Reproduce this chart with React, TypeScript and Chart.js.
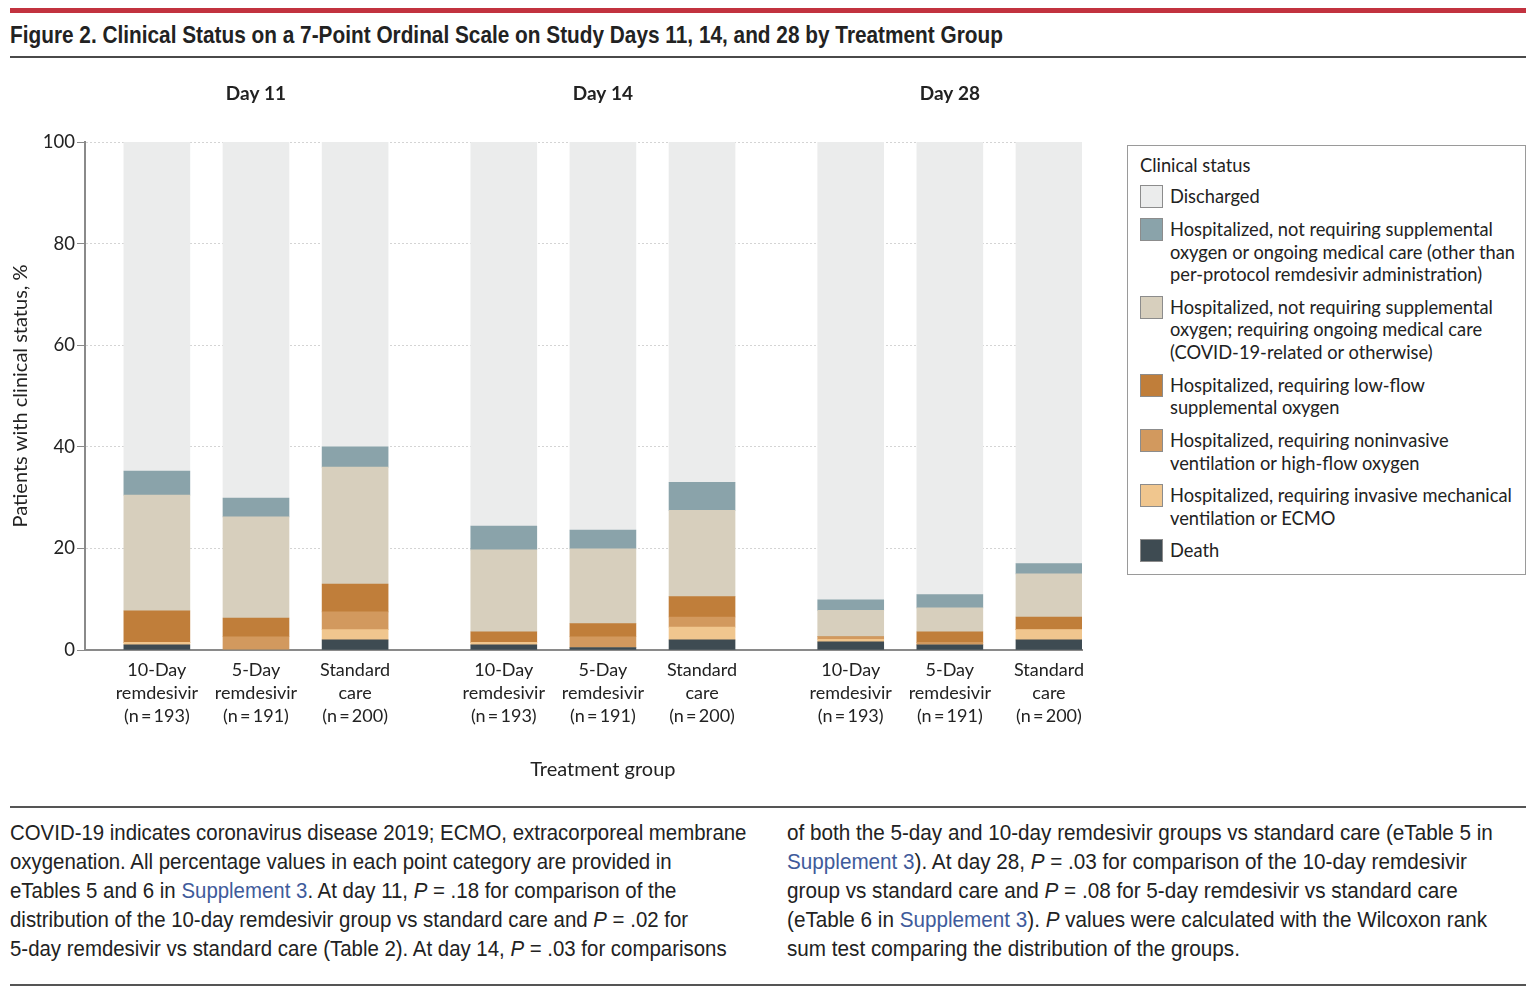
import React, { useEffect, useRef } from "react";
import { Chart, registerables } from "chart.js";

Chart.register(...registerables);

// Study days shown as groups, and the treatment arms inside each group
const days = ["Day 11", "Day 14", "Day 28"];
const arms = [
  ["10-Day", "remdesivir"],
  ["5-Day", "remdesivir"],
  ["Standard", "care"],
];
const armSizes = [193, 191, 200];

// Percentages per bar, ordered Day 11 (10-d, 5-d, SC), Day 14 (...), Day 28 (...)
const death = [1.0, 0.0, 2.0, 1.0, 0.5, 2.0, 1.6, 1.0, 2.0];
const invasiveVentilation = [0.5, 0.0, 2.0, 0.5, 0.0, 2.5, 0.5, 0.0, 2.0];
const noninvasiveVentilation = [0.0, 2.6, 3.5, 0.0, 2.1, 2.0, 0.5, 0.5, 0.0];
const lowFlowOxygen = [6.2, 3.7, 5.5, 2.1, 2.6, 4.0, 0.0, 2.1, 2.5];
const ongoingCare = [22.8, 19.9, 23.0, 16.1, 14.7, 17.0, 5.2, 4.7, 8.5];
const noOngoingCare = [4.7, 3.7, 4.0, 4.7, 3.7, 5.5, 2.1, 2.6, 2.0];
const discharged = [64.8, 70.1, 60.0, 75.6, 76.4, 67.0, 90.1, 89.1, 83.0];

const yTicks = [0, 20, 40, 60, 80, 100];

const statuses = [
  { label: "Death", values: death, color: "#3e4b52", legend: ["Death"] },
  {
    label: "Hospitalized, requiring invasive mechanical ventilation or ECMO",
    values: invasiveVentilation,
    color: "#f0c68e",
    legend: ["Hospitalized, requiring invasive mechanical", "ventilation or ECMO"],
  },
  {
    label: "Hospitalized, requiring noninvasive ventilation or high-flow oxygen",
    values: noninvasiveVentilation,
    color: "#d2995e",
    legend: ["Hospitalized, requiring noninvasive", "ventilation or high-flow oxygen"],
  },
  {
    label: "Hospitalized, requiring low-flow supplemental oxygen",
    values: lowFlowOxygen,
    color: "#c07e3a",
    legend: ["Hospitalized, requiring low-flow", "supplemental oxygen"],
  },
  {
    label: "Hospitalized, not requiring supplemental oxygen; requiring ongoing medical care",
    values: ongoingCare,
    color: "#d7cfbd",
    legend: [
      "Hospitalized, not requiring supplemental",
      "oxygen; requiring ongoing medical care",
      "(COVID-19-related or otherwise)",
    ],
  },
  {
    label: "Hospitalized, not requiring supplemental oxygen or ongoing medical care",
    values: noOngoingCare,
    color: "#8aa3aa",
    legend: [
      "Hospitalized, not requiring supplemental",
      "oxygen or ongoing medical care (other than",
      "per-protocol remdesivir administration)",
    ],
  },
  { label: "Discharged", values: discharged, color: "#ebecec", legend: ["Discharged"] },
];

const FONT = "Lato, 'Noto Sans', sans-serif";
const HEADING = "'Liberation Sans', Arial, sans-serif";
const TEXT = "#222";
const LINK = "#3f5b9b";

// Bars sit on a half-slot grid: 2 slots between arms, 7 slots between days
const SLOT_PER_ARM = 2;
const SLOT_PER_DAY = 7;
const BAR_PX = 66;
const barPos = (i: number) =>
  Math.floor(i / arms.length) * SLOT_PER_DAY + (i % arms.length) * SLOT_PER_ARM;
const X_MIN = -1.45;
const X_MAX = (days.length - 1) * SLOT_PER_DAY + (arms.length - 1) * SLOT_PER_ARM + 2 / 3;

const tickLabels = days.flatMap(() =>
  arms.map((a, j) => [a[0], a[1], `(n\u2009=\u2009${armSizes[j]})`])
);

const axisTitlePlugin = {
  id: "treatmentTitle",
  afterDraw(chart: any) {
    const x = chart.scales.x;
    const first = x.getPixelForValue(barPos(0)) - BAR_PX / 2;
    const last = x.getPixelForValue(barPos(tickLabels.length - 1)) + BAR_PX / 2;
    const ctx = chart.ctx;
    ctx.save();
    ctx.font = `20px ${FONT}`;
    ctx.fillStyle = TEXT;
    ctx.textAlign = "center";
    ctx.textBaseline = "middle";
    ctx.fillText("Treatment group", (first + last) / 2, 700);
    ctx.restore();
  },
};

function StatusChart() {
  const ref = useRef<HTMLCanvasElement>(null);
  useEffect(() => {
    const chart = new Chart(ref.current as HTMLCanvasElement, {
      type: "bar",
      data: {
        datasets: statuses.map((s) => ({
          label: s.label,
          data: s.values.map((v, i) => ({ x: barPos(i), y: v })),
          backgroundColor: s.color,
          borderWidth: 0,
          barThickness: BAR_PX,
        })),
      },
      plugins: [axisTitlePlugin],
      options: {
        responsive: false,
        animation: false,
        layout: { padding: { left: 0, right: 38, top: 0, bottom: 0 } },
        plugins: { legend: { display: false }, tooltip: { enabled: false } },
        scales: {
          x: {
            type: "linear",
            stacked: true,
            offset: false,
            min: X_MIN,
            max: X_MAX,
            afterBuildTicks: (s: any) => {
              s.ticks = tickLabels.map((_, i) => ({ value: barPos(i) }));
            },
            afterFit: (s: any) => {
              s.height = 150;
            },
            ticks: {
              autoSkip: false,
              maxRotation: 0,
              padding: 9,
              color: TEXT,
              font: { family: FONT, size: 18, lineHeight: 1.28 },
              callback: (_v: any, i: number) => tickLabels[i],
            },
            grid: { display: false, drawTicks: false },
            border: { display: true, color: "#8a8a8a", width: 2 },
          },
          days: {
            type: "linear",
            position: "top",
            min: X_MIN,
            max: X_MAX,
            offset: false,
            afterBuildTicks: (s: any) => {
              s.ticks = days.map((_, g) => ({ value: g * SLOT_PER_DAY + SLOT_PER_ARM }));
            },
            afterFit: (s: any) => {
              s.height = 72;
            },
            ticks: {
              autoSkip: false,
              maxRotation: 0,
              padding: 37,
              color: TEXT,
              font: { family: FONT, size: 19, weight: "bold" },
              callback: (_v: any, i: number) => days[i],
            },
            grid: { display: false, drawTicks: false },
            border: { display: false },
          },
          y: {
            stacked: true,
            min: 0,
            max: 100,
            afterBuildTicks: (s: any) => {
              s.ticks = yTicks.map((v) => ({ value: v }));
            },
            afterFit: (s: any) => {
              s.width = 85;
            },
            ticks: {
              padding: 2,
              color: TEXT,
              font: { family: FONT, size: 18.5 },
            },
            grid: {
              color: "#d4d4d4",
              tickColor: "#8a8a8a",
              tickLength: 8,
              lineWidth: 1,
            },
            border: { color: "#8a8a8a", width: 2, dash: [2, 2] },
            title: {
              display: true,
              text: "Patients with clinical status, %",
              color: TEXT,
              font: { family: FONT, size: 20 },
              padding: { top: 9, bottom: 0 },
            },
          },
        },
      },
    } as any);
    return () => chart.destroy();
  }, []);
  return <canvas ref={ref} width={1120} height={730} style={{ width: 1120, height: 730 }} />;
}

function Legend() {
  return (
    <div
      style={{
        position: "absolute",
        left: 1127,
        top: 145,
        width: 397,
        height: 428,
        border: "1px solid #9a9a9a",
        fontFamily: FONT,
        fontSize: 18.3,
        lineHeight: "22.7px",
        color: TEXT,
        boxSizing: "content-box",
      }}
    >
      <div style={{ position: "absolute", left: 12, top: 8 }}>Clinical status</div>
      <div style={{ position: "absolute", left: 12, top: 39 }}>
        {[...statuses].reverse().map((s) => (
          <div key={s.label} style={{ display: "flex", marginBottom: 9.8 }}>
            <div
              style={{
                width: 21,
                height: 21,
                background: s.color,
                border: "1px solid #8c8c8c",
                flex: "none",
              }}
            />
            <div style={{ marginLeft: 7, whiteSpace: "nowrap" }}>
              {s.legend.map((l) => (
                <div key={l}>{l}</div>
              ))}
            </div>
          </div>
        ))}
      </div>
    </div>
  );
}

const P = () => <i>P</i>;
const Supp = () => <span style={{ color: LINK }}>Supplement 3</span>;

const leftCaption = [
  <>COVID-19 indicates coronavirus disease 2019; ECMO, extracorporeal membrane</>,
  <>oxygenation. All percentage values in each point category are provided in</>,
  <>
    eTables 5 and 6 in <Supp />. At day 11, <P /> = .18 for comparison of the
  </>,
  <>
    distribution of the 10-day remdesivir group vs standard care and <P /> = .02 for
  </>,
  <>
    5-day remdesivir vs standard care (Table 2). At day 14, <P /> = .03 for comparisons
  </>,
];
const rightCaption = [
  <>of both the 5-day and 10-day remdesivir groups vs standard care (eTable 5 in</>,
  <>
    <Supp />
    ). At day 28, <P /> = .03 for comparison of the 10-day remdesivir
  </>,
  <>
    group vs standard care and <P /> = .08 for 5-day remdesivir vs standard care
  </>,
  <>
    (eTable 6 in <Supp />
    ). <P /> values were calculated with the Wilcoxon rank
  </>,
  <>sum test comparing the distribution of the groups.</>,
];

function Caption({ lines, left, squeeze }: { lines: React.ReactNode[]; left: number; squeeze: number }) {
  return (
    <div
      style={{
        position: "absolute",
        left,
        top: 818,
        fontFamily: HEADING,
        fontSize: 22,
        lineHeight: "29px",
        color: TEXT,
        transform: `scaleX(${squeeze})`,
        transformOrigin: "left top",
      }}
    >
      {lines.map((l, i) => (
        <div key={i} style={{ whiteSpace: "nowrap" }}>
          {l}
        </div>
      ))}
    </div>
  );
}

export default function App() {
  useEffect(() => {
    document.body.style.margin = "0";
  }, []);
  return (
    <div style={{ position: "relative", width: 1536, height: 993, background: "#fff", overflow: "hidden" }}>
      <div style={{ position: "absolute", left: 10, top: 8, width: 1516, height: 5, background: "#c2323f" }} />
      <div
        style={{
          position: "absolute",
          left: 10,
          top: 20,
          fontFamily: HEADING,
          fontWeight: "bold",
          fontSize: 24.5,
          lineHeight: "30px",
          color: TEXT,
          whiteSpace: "nowrap",
          transform: "scaleX(0.849)",
          transformOrigin: "left top",
        }}
      >
        Figure 2. Clinical Status on a 7-Point Ordinal Scale on Study Days 11, 14, and 28 by Treatment Group
      </div>
      <div style={{ position: "absolute", left: 10, top: 56, width: 1516, height: 2, background: "#4a4a4a" }} />
      <div style={{ position: "absolute", left: 0, top: 70 }}>
        <StatusChart />
      </div>
      <Legend />
      <div style={{ position: "absolute", left: 10, top: 806, width: 1516, height: 2, background: "#555" }} />
      <Caption lines={leftCaption} left={10} squeeze={0.928} />
      <Caption lines={rightCaption} left={787} squeeze={0.94} />
      <div style={{ position: "absolute", left: 10, top: 984, width: 1516, height: 2, background: "#555" }} />
    </div>
  );
}
